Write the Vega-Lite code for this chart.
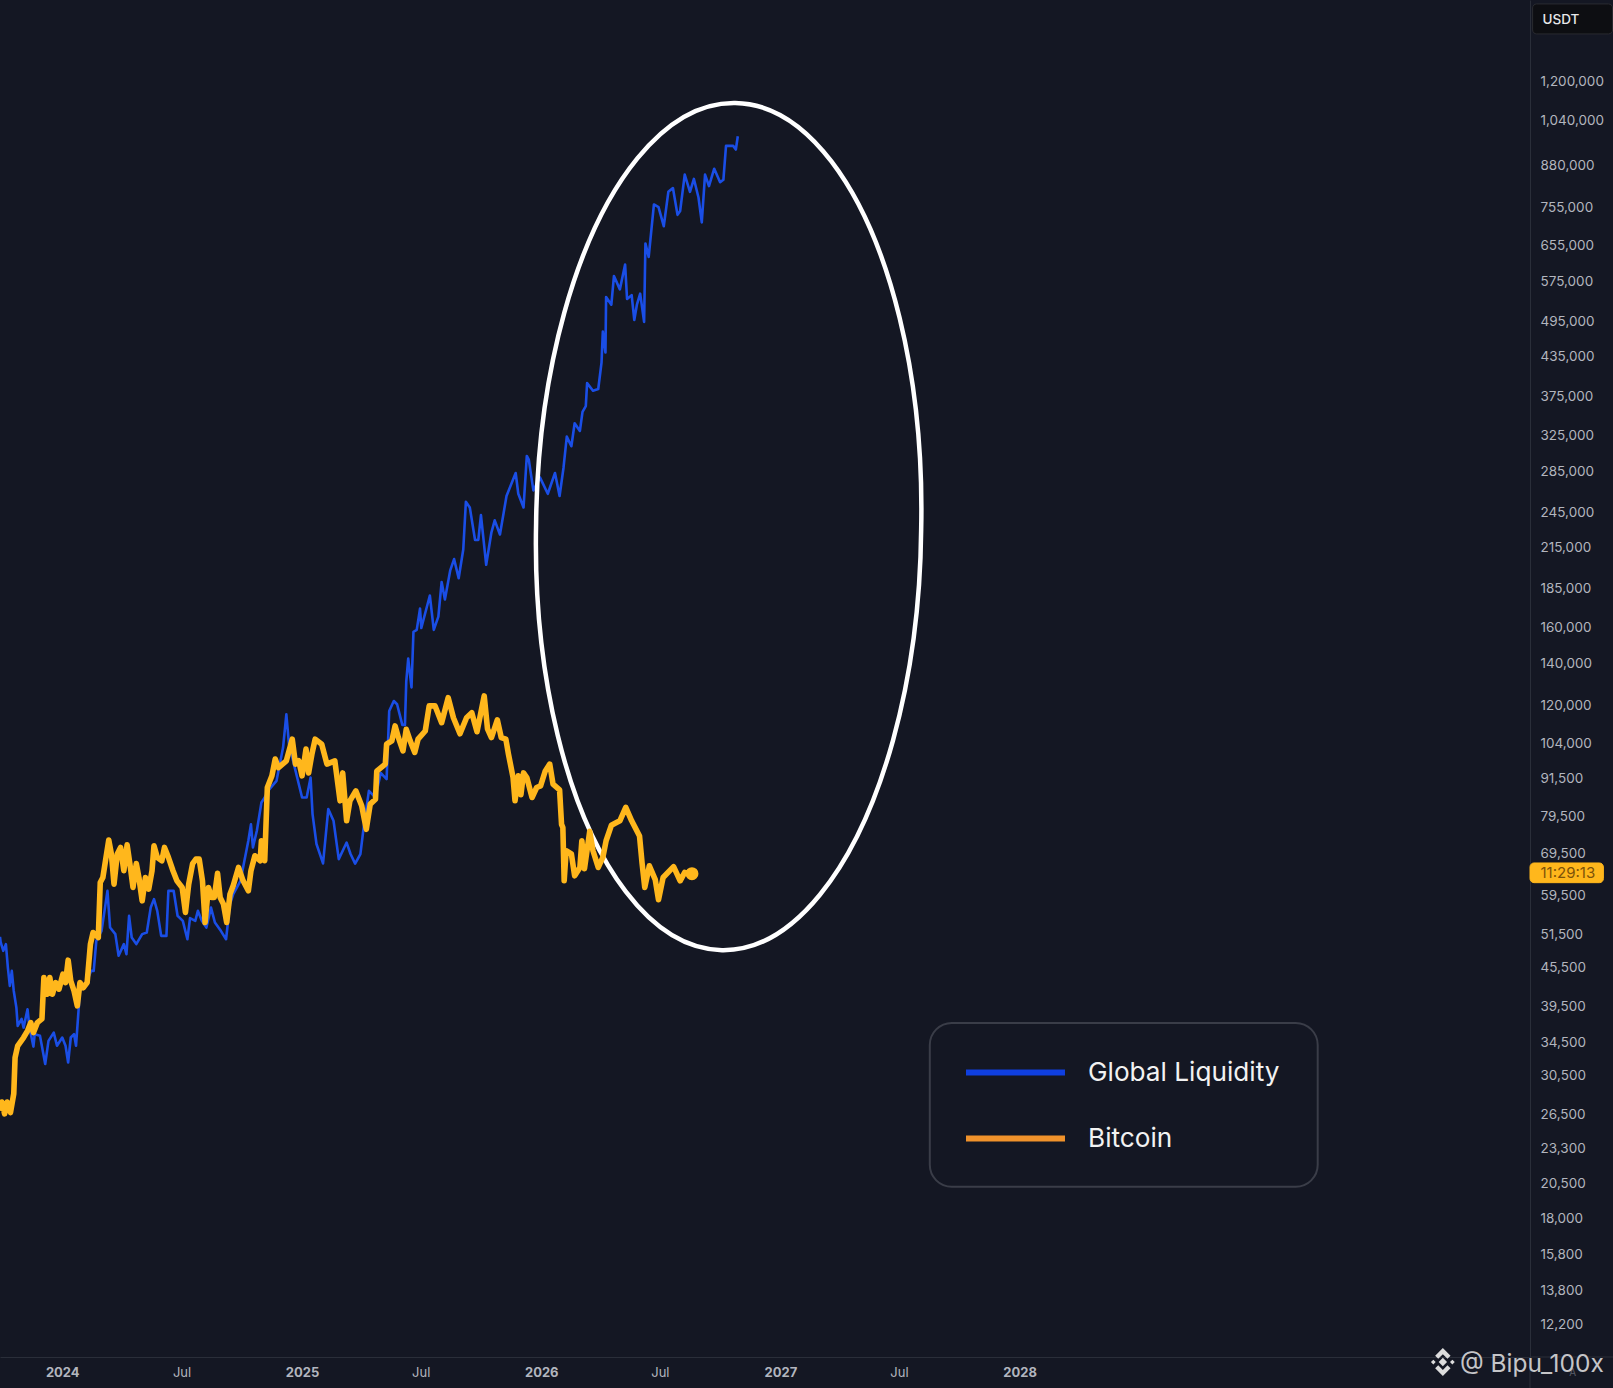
{
  "$schema": "https://vega.github.io/schema/vega-lite/v6.json",
  "width": 1530,
  "height": 1357,
  "autosize": "none",
  "padding": {"left": 0, "top": 0, "right": 83, "bottom": 31},
  "background": "#141723",
  "view": {"stroke": null},
  "config": {"font": "Inter"},
  "datasets": {
    "liquidity": [
      {"date":"2023-09-28","price":51000},{"date":"2023-09-29","price":50000},{"date":"2023-10-03","price":48430},{"date":"2023-10-07","price":49650},{"date":"2023-10-10","price":45530},{"date":"2023-10-13","price":42540},{"date":"2023-10-16","price":44980},{"date":"2023-10-19","price":41760},{"date":"2023-10-23","price":39270},{"date":"2023-10-25","price":36700},{"date":"2023-10-31","price":37660},{"date":"2023-11-03","price":36470},{"date":"2023-11-09","price":39030},{"date":"2023-11-12","price":36470},{"date":"2023-11-18","price":34000},{"date":"2023-11-20","price":35600},{"date":"2023-11-28","price":35380},{"date":"2023-12-06","price":31880},{"date":"2023-12-11","price":34730},{"date":"2023-12-19","price":35800},{"date":"2023-12-24","price":34100},{"date":"2024-01-01","price":35160},{"date":"2024-01-06","price":34100},{"date":"2024-01-10","price":32060},{"date":"2024-01-14","price":35160},{"date":"2024-01-19","price":35600},{"date":"2024-01-22","price":34100},{"date":"2024-01-26","price":39030},{"date":"2024-01-28","price":41760},{"date":"2024-02-08","price":43350},{"date":"2024-02-14","price":44980},{"date":"2024-02-18","price":44980},{"date":"2024-02-22","price":50250},{"date":"2024-03-01","price":52140},{"date":"2024-03-10","price":60450},{"date":"2024-03-14","price":52780},{"date":"2024-03-22","price":51510},{"date":"2024-03-27","price":47550},{"date":"2024-04-04","price":49650},{"date":"2024-04-08","price":47840},{"date":"2024-04-12","price":55120},{"date":"2024-04-16","price":50870},{"date":"2024-04-23","price":49650},{"date":"2024-05-02","price":51510},{"date":"2024-05-09","price":51820},{"date":"2024-05-15","price":56820},{"date":"2024-05-20","price":58620},{"date":"2024-05-25","price":56140},{"date":"2024-05-31","price":51180},{"date":"2024-06-08","price":51180},{"date":"2024-06-11","price":60450},{"date":"2024-06-19","price":60450},{"date":"2024-06-25","price":55120},{"date":"2024-07-03","price":54110},{"date":"2024-07-10","price":50550},{"date":"2024-07-14","price":54650},{"date":"2024-07-22","price":54110},{"date":"2024-07-26","price":56140},{"date":"2024-08-01","price":54110},{"date":"2024-08-08","price":52780},{"date":"2024-08-15","price":56820},{"date":"2024-08-21","price":53770},{"date":"2024-08-30","price":52140},{"date":"2024-09-07","price":50550},{"date":"2024-09-13","price":57550},{"date":"2024-09-18","price":59720},{"date":"2024-09-29","price":62730},{"date":"2024-10-11","price":72730},{"date":"2024-10-15","price":77280},{"date":"2024-10-18","price":70960},{"date":"2024-10-24","price":75460},{"date":"2024-10-31","price":83780},{"date":"2024-11-05","price":85340},{"date":"2024-11-10","price":87460},{"date":"2024-11-23","price":90760},{"date":"2024-12-03","price":102640},{"date":"2024-12-08","price":116050},{"date":"2024-12-12","price":103900},{"date":"2024-12-22","price":94180},{"date":"2025-01-01","price":85340},{"date":"2025-01-08","price":85340},{"date":"2025-01-14","price":91880},{"date":"2025-01-17","price":80260},{"date":"2025-01-23","price":71860},{"date":"2025-02-02","price":66890},{"date":"2025-02-10","price":81750},{"date":"2025-02-18","price":78300},{"date":"2025-02-26","price":67970},{"date":"2025-03-10","price":72250},{"date":"2025-03-16","price":69250},{"date":"2025-03-23","price":66850},{"date":"2025-03-31","price":69250},{"date":"2025-04-05","price":76380},{"date":"2025-04-13","price":87460},{"date":"2025-04-23","price":85340},{"date":"2025-05-01","price":93450},{"date":"2025-05-10","price":91330},{"date":"2025-05-14","price":117480},{"date":"2025-05-21","price":121900},{"date":"2025-05-26","price":120430},{"date":"2025-06-03","price":111600},{"date":"2025-06-07","price":111600},{"date":"2025-06-09","price":130900},{"date":"2025-06-12","price":142600},{"date":"2025-06-17","price":128200},{"date":"2025-06-20","price":157400},{"date":"2025-06-25","price":158500},{"date":"2025-06-30","price":171500},{"date":"2025-07-02","price":159600},{"date":"2025-07-15","price":180000},{"date":"2025-07-21","price":158500},{"date":"2025-07-28","price":166500},{"date":"2025-08-02","price":189200},{"date":"2025-08-07","price":177400},{"date":"2025-08-15","price":197300},{"date":"2025-08-21","price":205900},{"date":"2025-08-28","price":191800},{"date":"2025-09-04","price":213300},{"date":"2025-09-08","price":254500},{"date":"2025-09-14","price":249200},{"date":"2025-09-22","price":221000},{"date":"2025-09-27","price":221000},{"date":"2025-10-01","price":242200},{"date":"2025-10-09","price":201600},{"date":"2025-10-17","price":227300},{"date":"2025-10-22","price":237600},{"date":"2025-10-30","price":225500},{"date":"2025-11-09","price":259900},{"date":"2025-11-23","price":283000},{"date":"2025-11-27","price":262100},{"date":"2025-12-05","price":249200},{"date":"2025-12-10","price":301400},{"date":"2025-12-13","price":297300},{"date":"2025-12-20","price":265400},{"date":"2025-12-30","price":278500},{"date":"2026-01-11","price":262100},{"date":"2026-01-22","price":283000},{"date":"2026-01-29","price":259900},{"date":"2026-02-04","price":288600},{"date":"2026-02-09","price":323700},{"date":"2026-02-16","price":312400},{"date":"2026-02-21","price":340100},{"date":"2026-03-01","price":330600},{"date":"2026-03-05","price":354800},{"date":"2026-03-10","price":362400},{"date":"2026-03-12","price":394500},{"date":"2026-03-21","price":383600},{"date":"2026-03-29","price":386000},{"date":"2026-04-03","price":425500},{"date":"2026-04-05","price":477300},{"date":"2026-04-09","price":441700},{"date":"2026-04-10","price":542300},{"date":"2026-04-18","price":527000},{"date":"2026-04-22","price":586000},{"date":"2026-05-01","price":557700},{"date":"2026-05-09","price":611400},{"date":"2026-05-12","price":538300},{"date":"2026-05-19","price":546000},{"date":"2026-05-23","price":498100},{"date":"2026-05-27","price":527000},{"date":"2026-06-01","price":549000},{"date":"2026-06-07","price":494600},{"date":"2026-06-09","price":660900},{"date":"2026-06-14","price":628800},{"date":"2026-06-22","price":763300},{"date":"2026-06-29","price":756000},{"date":"2026-07-07","price":704300},{"date":"2026-07-14","price":799700},{"date":"2026-07-21","price":811000},{"date":"2026-07-28","price":734500},{"date":"2026-08-01","price":745000},{"date":"2026-08-08","price":852300},{"date":"2026-08-16","price":799700},{"date":"2026-08-22","price":838700},{"date":"2026-08-29","price":783000},{"date":"2026-09-03","price":714400},{"date":"2026-09-08","price":852300},{"date":"2026-09-14","price":817000},{"date":"2026-09-22","price":870900},{"date":"2026-10-01","price":828600},{"date":"2026-10-06","price":836000},{"date":"2026-10-10","price":947700},{"date":"2026-10-21","price":947700},{"date":"2026-10-25","price":935000},{"date":"2026-10-28","price":981900}
    ],
    "bitcoin": [
      {"date":"2023-09-28","price":26820},{"date":"2023-10-01","price":27700},{"date":"2023-10-05","price":26520},{"date":"2023-10-09","price":27700},{"date":"2023-10-14","price":26650},{"date":"2023-10-19","price":28560},{"date":"2023-10-21","price":32650},{"date":"2023-10-25","price":34100},{"date":"2023-11-03","price":35160},{"date":"2023-11-09","price":36040},{"date":"2023-11-14","price":37150},{"date":"2023-11-18","price":35800},{"date":"2023-11-24","price":37150},{"date":"2023-12-01","price":37660},{"date":"2023-12-04","price":43880},{"date":"2023-12-09","price":41260},{"date":"2023-12-13","price":43880},{"date":"2023-12-17","price":41260},{"date":"2023-12-22","price":43070},{"date":"2023-12-27","price":42030},{"date":"2024-01-02","price":44430},{"date":"2024-01-06","price":43070},{"date":"2024-01-10","price":46790},{"date":"2024-01-14","price":43350},{"date":"2024-01-19","price":41760},{"date":"2024-01-24","price":39520},{"date":"2024-01-28","price":43070},{"date":"2024-02-02","price":42260},{"date":"2024-02-08","price":43070},{"date":"2024-02-13","price":49650},{"date":"2024-02-17","price":51820},{"date":"2024-02-25","price":50870},{"date":"2024-02-28","price":62340},{"date":"2024-03-03","price":63500},{"date":"2024-03-07","price":67560},{"date":"2024-03-12","price":72930},{"date":"2024-03-16","price":69250},{"date":"2024-03-20","price":61970},{"date":"2024-03-25","price":69250},{"date":"2024-03-30","price":70960},{"date":"2024-04-04","price":65110},{"date":"2024-04-09","price":71660},{"date":"2024-04-14","price":65900},{"date":"2024-04-18","price":61200},{"date":"2024-04-23","price":66850},{"date":"2024-04-27","price":63500},{"date":"2024-05-02","price":58260},{"date":"2024-05-07","price":63500},{"date":"2024-05-12","price":60830},{"date":"2024-05-17","price":65110},{"date":"2024-05-20","price":71400},{"date":"2024-05-25","price":68400},{"date":"2024-06-01","price":67560},{"date":"2024-06-05","price":70960},{"date":"2024-06-11","price":68400},{"date":"2024-06-18","price":65110},{"date":"2024-06-24","price":62730},{"date":"2024-07-02","price":61200},{"date":"2024-07-07","price":55800},{"date":"2024-07-12","price":61970},{"date":"2024-07-18","price":66850},{"date":"2024-07-23","price":67970},{"date":"2024-07-28","price":67970},{"date":"2024-08-02","price":62730},{"date":"2024-08-06","price":53770},{"date":"2024-08-11","price":61200},{"date":"2024-08-16","price":58980},{"date":"2024-08-20","price":58980},{"date":"2024-08-25","price":64490},{"date":"2024-08-29","price":58980},{"date":"2024-09-03","price":57550},{"date":"2024-09-08","price":53770},{"date":"2024-09-13","price":59720},{"date":"2024-09-18","price":61670},{"date":"2024-09-26","price":65900},{"date":"2024-10-03","price":62730},{"date":"2024-10-11","price":60450},{"date":"2024-10-15","price":65110},{"date":"2024-10-21","price":68800},{"date":"2024-10-29","price":67560},{"date":"2024-10-31","price":72730},{"date":"2024-11-05","price":67560},{"date":"2024-11-09","price":88550},{"date":"2024-11-16","price":92460},{"date":"2024-11-21","price":98340},{"date":"2024-11-26","price":95270},{"date":"2024-12-08","price":97720},{"date":"2024-12-17","price":105880},{"date":"2024-12-22","price":96530},{"date":"2024-12-27","price":97720},{"date":"2025-01-01","price":92460},{"date":"2025-01-07","price":102030},{"date":"2025-01-11","price":93450},{"date":"2025-01-16","price":100160},{"date":"2025-01-21","price":105880},{"date":"2025-01-31","price":103900},{"date":"2025-02-08","price":96530},{"date":"2025-02-20","price":97720},{"date":"2025-02-28","price":84300},{"date":"2025-03-04","price":93450},{"date":"2025-03-10","price":78300},{"date":"2025-03-15","price":84300},{"date":"2025-03-24","price":87460},{"date":"2025-04-02","price":82760},{"date":"2025-04-09","price":75870},{"date":"2025-04-15","price":83270},{"date":"2025-04-23","price":84780},{"date":"2025-04-25","price":94040},{"date":"2025-05-08","price":96530},{"date":"2025-05-10","price":103900},{"date":"2025-05-18","price":105200},{"date":"2025-05-23","price":111150},{"date":"2025-05-28","price":106500},{"date":"2025-06-04","price":101400},{"date":"2025-06-09","price":109800},{"date":"2025-06-15","price":105200},{"date":"2025-06-22","price":100800},{"date":"2025-06-27","price":105880},{"date":"2025-07-08","price":109100},{"date":"2025-07-14","price":119700},{"date":"2025-07-23","price":119700},{"date":"2025-08-02","price":112500},{"date":"2025-08-12","price":123400},{"date":"2025-08-20","price":114600},{"date":"2025-08-30","price":108000},{"date":"2025-09-09","price":114600},{"date":"2025-09-17","price":116700},{"date":"2025-09-25","price":108800},{"date":"2025-10-06","price":124200},{"date":"2025-10-11","price":110000},{"date":"2025-10-17","price":106500},{"date":"2025-10-26","price":113700},{"date":"2025-11-01","price":106500},{"date":"2025-11-08","price":105880},{"date":"2025-11-12","price":100160},{"date":"2025-11-19","price":91880},{"date":"2025-11-22","price":84300},{"date":"2025-11-27","price":92460},{"date":"2025-12-01","price":86200},{"date":"2025-12-05","price":93450},{"date":"2025-12-10","price":91880},{"date":"2025-12-18","price":85340},{"date":"2025-12-25","price":88550},{"date":"2025-12-31","price":89100},{"date":"2026-01-07","price":94040},{"date":"2026-01-14","price":96530},{"date":"2026-01-19","price":89660},{"date":"2026-01-29","price":87800},{"date":"2026-02-01","price":77280},{"date":"2026-02-03","price":76380},{"date":"2026-02-05","price":62730},{"date":"2026-02-08","price":70100},{"date":"2026-02-16","price":69300},{"date":"2026-02-21","price":63890},{"date":"2026-03-01","price":65900},{"date":"2026-03-04","price":72730},{"date":"2026-03-08","price":65600},{"date":"2026-03-16","price":75300},{"date":"2026-03-21","price":70100},{"date":"2026-03-29","price":65900},{"date":"2026-04-05","price":68400},{"date":"2026-04-10","price":72730},{"date":"2026-04-18","price":77000},{"date":"2026-05-01","price":78300},{"date":"2026-05-10","price":82300},{"date":"2026-05-19","price":78300},{"date":"2026-05-31","price":74000},{"date":"2026-06-04","price":66800},{"date":"2026-06-08","price":61200},{"date":"2026-06-15","price":66300},{"date":"2026-06-24","price":63000},{"date":"2026-06-29","price":58500},{"date":"2026-07-06","price":63500},{"date":"2026-07-22","price":66100},{"date":"2026-08-01","price":62730},{"date":"2026-08-08","price":64700},{"date":"2026-08-19","price":64400}
    ]
  },
  "encoding": {
    "x": {
      "field": "date",
      "type": "temporal",
      "title": null,
      "scale": {"domain": ["2023-09-28", "2030-02-18"]},
      "axis": {
        "values": [
          {"year": 2024, "month": 1, "date": 1}, {"year": 2024, "month": 7, "date": 1},
          {"year": 2025, "month": 1, "date": 1}, {"year": 2025, "month": 7, "date": 1},
          {"year": 2026, "month": 1, "date": 1}, {"year": 2026, "month": 7, "date": 1},
          {"year": 2027, "month": 1, "date": 1}, {"year": 2027, "month": 7, "date": 1},
          {"year": 2028, "month": 1, "date": 1}
        ],
        "labelExpr": "month(datum.value) == 0 ? timeFormat(datum.value, '%Y') : 'Jul'",
        "labelFontWeight": {"condition": {"test": "month(datum.value) == 0", "value": 700}, "value": 400},
        "labelFont": "Inter",
        "labelFontSize": 13,
        "labelColor": "#b2b5be",
        "labelPadding": 9,
        "labelOverlap": false,
        "labelFlush": false,
        "ticks": false,
        "grid": false,
        "domainColor": "#2a2e39"
      }
    },
    "y": {
      "field": "price",
      "type": "quantitative",
      "title": null,
      "scale": {"type": "log", "domain": [10800, 1624500], "nice": false},
      "axis": {
        "orient": "right",
        "values": [1200000, 1040000, 880000, 755000, 655000, 575000, 495000, 435000, 375000, 325000, 285000, 245000, 215000, 185000, 160000, 140000, 120000, 104000, 91500, 79500, 69500, 59500, 51500, 45500, 39500, 34500, 30500, 26500, 23300, 20500, 18000, 15800, 13800, 12200],
        "format": ",",
        "labelFont": "Inter",
        "labelFontSize": 13.5,
        "labelColor": "#b2b5be",
        "labelPadding": 10,
        "labelOverlap": false,
        "labelBound": false,
        "ticks": false,
        "grid": false,
        "domainColor": "#2a2e39"
      }
    }
  },
  "layer": [
    {
      "data": {"values": [
        {"date": "2030-02-18", "date2": "2030-02-18", "price": 10800, "price2": 9300},
        {"date": "2030-02-18", "date2": "2030-06-28", "price": 10800, "price2": 10800}
      ]},
      "mark": {"type": "rule", "color": "#2a2e39", "strokeWidth": 1},
      "encoding": {
        "x2": {"field": "date2"},
        "y2": {"field": "price2"}
      }
    },
    {
      "data": {"values": [{"date": "2027-08-17", "date2": "2029-03-31", "price": 37100, "price2": 20250}]},
      "mark": {"type": "rect", "fillOpacity": 0, "stroke": "#3a3d48", "strokeWidth": 2, "cornerRadius": 22},
      "encoding": {
        "x2": {"field": "date2"},
        "y2": {"field": "price2"}
      }
    },
    {
      "data": {"name": "liquidity"},
      "mark": {"type": "line", "color": "#1a4ee6", "strokeWidth": 2.6, "strokeJoin": "round"}
    },
    {
      "data": {"values": [{"date": "2026-10-14", "price": 232200}]},
      "mark": {
        "type": "point",
        "shape": "M-0.4607,-0.0072 A0.4608,1,0.9,1,1,0.4607,0.0072 A0.4608,1,0.9,1,1,-0.4607,-0.0072 Z",
        "size": 698600,
        "filled": false,
        "stroke": "#ffffff",
        "strokeWidth": 4.5,
        "opacity": 1
      }
    },
    {
      "data": {"name": "bitcoin"},
      "mark": {"type": "line", "color": "#ffb71c", "strokeWidth": 5.6, "strokeJoin": "round"}
    },
    {
      "data": {"values": [{"date": "2026-08-19", "price": 64400}]},
      "mark": {"type": "circle", "color": "#ffb71c", "size": 170, "opacity": 1}
    },
    {
      "data": {"values": [{"series": "Global Liquidity"}, {"series": "Bitcoin"}]},
      "transform": [{"filter": "false"}],
      "mark": {"type": "line", "strokeWidth": 6},
      "encoding": {
        "color": {
          "field": "series",
          "type": "nominal",
          "scale": {"domain": ["Global Liquidity", "Bitcoin"], "range": ["#0f3fe0", "#f0922b"]},
          "legend": {
            "title": null,
            "orient": "none",
            "legendX": 963,
            "legendY": 1020,
            "padding": 0,
            "rowPadding": -38,
            "symbolType": "stroke",
            "symbolSize": 9800,
            "symbolStrokeWidth": 6,
            "labelFont": "Inter",
            "labelFontSize": 26.2,
            "labelColor": "#f2f2f2",
            "labelOffset": 20,
            "labelLimit": 320
          }
        }
      }
    },
    {
      "data": {"values": [
        {"date": "2030-02-22", "date2": "2030-06-24", "price": 1601000, "price2": 1433000, "color": "usdt"},
        {"date": "2030-02-18", "date2": "2030-06-10", "price": 67000, "price2": 62300, "color": "timer"}
      ]},
      "mark": {"type": "rect", "cornerRadius": 4},
      "encoding": {
        "x2": {"field": "date2"},
        "y2": {"field": "price2"},
        "fill": {
          "field": "color",
          "type": "nominal",
          "scale": {"domain": ["usdt", "timer"], "range": ["#0d0e12", "#ffb71c"]},
          "legend": null
        },
        "stroke": {
          "field": "color",
          "type": "nominal",
          "scale": {"domain": ["usdt", "timer"], "range": ["#2a2b30", "#ffb71c"]},
          "legend": null
        }
      }
    },
    {
      "data": {"values": [{"date": "2030-03-09", "price": 1509000, "label": "USDT"}]},
      "mark": {"type": "text", "align": "left", "baseline": "middle", "font": "Inter", "fontSize": 13.5, "fontWeight": 500, "color": "#e8e8ea"},
      "encoding": {"text": {"field": "label"}}
    },
    {
      "data": {"values": [{"date": "2030-03-06", "price": 64600, "label": "11:29:13"}]},
      "mark": {"type": "text", "align": "left", "baseline": "middle", "font": "Inter", "fontSize": 15, "color": "#7d5208"},
      "encoding": {"text": {"field": "label"}}
    },
    {
      "data": {"values": [{"date": "2030-04-24", "price": 10180, "label": "A"}]},
      "mark": {"type": "text", "align": "center", "baseline": "middle", "font": "Inter", "fontSize": 10, "color": "#5a5d68"},
      "encoding": {"text": {"field": "label"}}
    },
    {
      "data": {"values": [{"date": "2029-10-08", "price": 10600}]},
      "mark": {
        "type": "point",
        "shape": "M0,-0.3 L0.3,0 L0,0.3 L-0.3,0 Z M-0.68,-0.17 L-0.51,0 L-0.68,0.17 L-0.85,0 Z M0.68,-0.17 L0.85,0 L0.68,0.17 L0.51,0 Z M0,-1 L0.55,-0.45 L0.33,-0.23 L0,-0.56 L-0.33,-0.23 L-0.55,-0.45 Z M0,1 L0.55,0.45 L0.33,0.23 L0,0.56 L-0.33,0.23 L-0.55,0.45 Z",
        "size": 784,
        "filled": true,
        "color": "#dcdcdc",
        "opacity": 1
      }
    },
    {
      "data": {"values": [{"date": "2029-11-03", "price": 10500, "label": "@ Bipu_100x"}]},
      "mark": {"type": "text", "align": "left", "baseline": "middle", "font": "Inter", "fontSize": 24.5, "color": "#d4d4d6", "opacity": 0.92},
      "encoding": {"text": {"field": "label"}}
    }
  ]
}
